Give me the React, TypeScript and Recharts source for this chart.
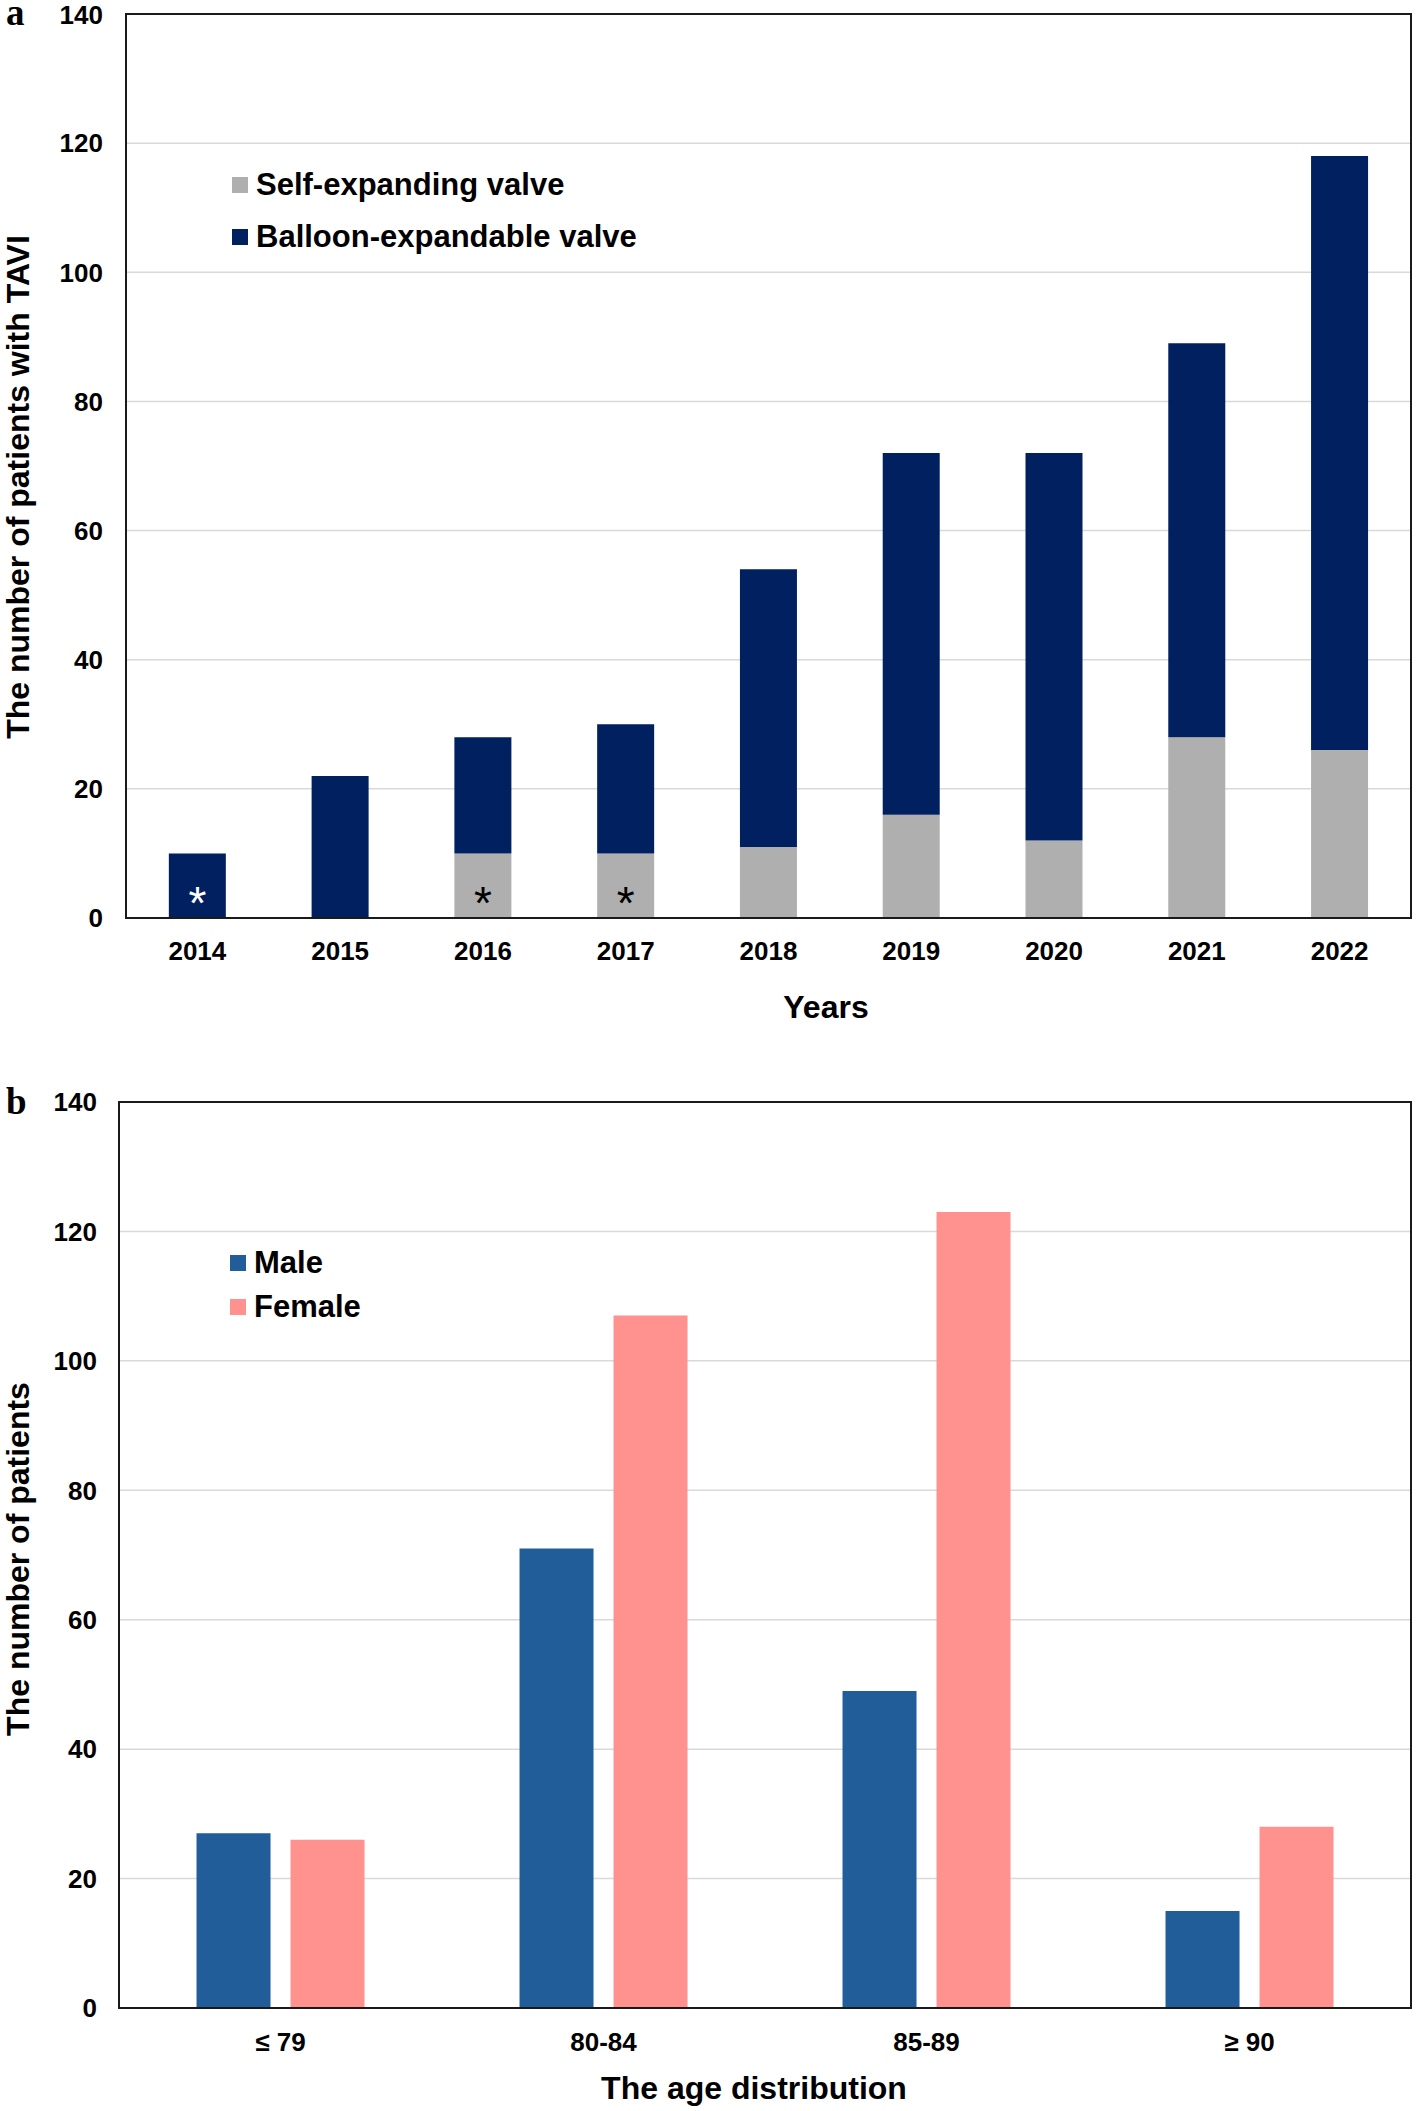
import React from "react";
import {
  BarChart,
  Bar,
  XAxis,
  YAxis,
  CartesianGrid,
  Legend,
  LabelList,
  ReferenceArea,
} from "recharts";

// panel a: TAVI valves per year
const years = ["2014", "2015", "2016", "2017", "2018", "2019", "2020", "2021", "2022"];
const selfExpanding = [0, 0, 10, 10, 11, 16, 12, 28, 26];
const balloonExpandable = [10, 22, 18, 20, 43, 56, 60, 61, 92];
const markSelf = ["", "", "*", "*", "", "", "", "", ""];
const markBalloon = ["*", "", "", "", "", "", "", "", ""];

// panel b: age distribution
const ageGroups = ["≤ 79", "80-84", "85-89", "≥ 90"];
const male = [27, 71, 49, 15];
const female = [26, 107, 123, 28];

const yTicks = [0, 20, 40, 60, 80, 100, 120, 140];

const FONT = "'Liberation Sans', Arial, Helvetica, sans-serif";
const NAVY = "#002060";
const GREY = "#AFAFAF";
const BLUE = "#215E99";
const SALMON = "#FF928E";

const valveData = years.map((y, i) => ({
  year: y,
  self: selfExpanding[i],
  balloon: balloonExpandable[i],
  markS: markSelf[i],
  markB: markBalloon[i],
}));

const ageData = ageGroups.map((g, i) => ({
  group: g,
  male: male[i],
  female: female[i],
}));

const tickStyle = { fill: "#000", fontSize: 26, fontWeight: 700, fontFamily: FONT };

const asterisk = (color: string) => (props: any) => {
  const { x, y, width, height, value } = props;
  if (!value) return null;
  return (
    <text
      x={Number(x) + Number(width) / 2}
      y={Number(y) + Number(height) + 1}
      textAnchor="middle"
      fill={color}
      fontSize={46}
      fontFamily={FONT}
    >
      {value}
    </text>
  );
};

// recharts 3 sorts legend items by name, keep the series order instead
const legendBox = (rowHeight: number, order: string[]) => (props: any) => {
  const items = [...(props.payload || [])].sort(
    (a: any, b: any) => order.indexOf(a.value) - order.indexOf(b.value)
  );
  return (
    <div style={{ fontFamily: FONT, fontWeight: 700, fontSize: 31, color: "#000" }}>
      {items.map((p: any) => (
        <div
          key={p.value}
          style={{ display: "flex", alignItems: "center", height: rowHeight, whiteSpace: "nowrap" }}
        >
          <span style={{ width: 16, height: 16, background: p.color, marginRight: 8, display: "inline-block" }} />
          {p.value}
        </div>
      ))}
    </div>
  );
};

const title = (text: string, cx: number, cy: number, rotate = false) => (
  <div
    style={{
      position: "absolute",
      left: cx,
      top: cy,
      transform: `translate(-50%, -50%)${rotate ? " rotate(-90deg)" : ""}`,
      fontFamily: FONT,
      fontWeight: 700,
      fontSize: 32,
      lineHeight: "32px",
      whiteSpace: "nowrap",
      color: "#000",
    }}
  >
    {text}
  </div>
);

const panelLetter = (ch: string, top: number) => (
  <div
    style={{
      position: "absolute",
      left: 6,
      top,
      fontFamily: "'Liberation Serif', 'Times New Roman', serif",
      fontWeight: 700,
      fontSize: 37,
      lineHeight: "25px",
    }}
  >
    {ch}
  </div>
);

export default function App() {
  return (
    <div style={{ position: "absolute", left: 0, top: 0, width: 1422, height: 2111, background: "#fff" }}>
      {/* a */}
      <div style={{ position: "absolute", left: 0, top: 0 }}>
        <BarChart
          width={1422}
          height={1060}
          data={valveData}
          margin={{ top: 14, right: 11, left: 0, bottom: 0 }}
          barCategoryGap="30%"
        >
          <CartesianGrid vertical={false} stroke="#D9D9D9" strokeWidth={1.5} />
          <XAxis
            dataKey="year"
            interval={0}
            height={142}
            tickLine={false}
            tickSize={0}
            tickMargin={24}
            axisLine={{ stroke: "#1a1a1a", strokeWidth: 2 }}
            tick={tickStyle}
          />
          <YAxis
            domain={[0, 140]}
            ticks={yTicks}
            width={126}
            tickLine={false}
            tickSize={0}
            tickMargin={23}
            axisLine={false}
            tick={tickStyle}
          />
          <Legend
            layout="vertical"
            align="center"
            verticalAlign="middle"
            wrapperStyle={{ left: 232, top: 159, width: "auto", height: "auto" }}
            content={legendBox(52, ["Self-expanding valve", "Balloon-expandable valve"])}
          />
          <Bar dataKey="self" name="Self-expanding valve" stackId="v" fill={GREY} isAnimationActive={false}>
            <LabelList dataKey="markS" content={asterisk("#000")} />
          </Bar>
          <Bar dataKey="balloon" name="Balloon-expandable valve" stackId="v" fill={NAVY} isAnimationActive={false}>
            <LabelList dataKey="markB" content={asterisk("#fff")} />
          </Bar>
          <ReferenceArea y1={0} y2={140} fill="none" stroke="#1a1a1a" strokeWidth={2} />
        </BarChart>
      </div>

      {/* b */}
      <div style={{ position: "absolute", left: 0, top: 1060 }}>
        <BarChart
          width={1422}
          height={1051}
          data={ageData}
          margin={{ top: 42, right: 11, left: 0, bottom: 0 }}
          barCategoryGap="24%"
          barGap={20}
        >
          <CartesianGrid vertical={false} stroke="#D9D9D9" strokeWidth={1.5} />
          <XAxis
            dataKey="group"
            interval={0}
            height={103}
            tickLine={false}
            tickSize={0}
            tickMargin={25}
            axisLine={{ stroke: "#1a1a1a", strokeWidth: 2 }}
            tick={tickStyle}
          />
          <YAxis
            domain={[0, 140]}
            ticks={yTicks}
            width={119}
            tickLine={false}
            tickSize={0}
            tickMargin={22}
            axisLine={false}
            tick={tickStyle}
          />
          <Legend
            layout="vertical"
            align="center"
            verticalAlign="middle"
            wrapperStyle={{ left: 230, top: 181, width: "auto", height: "auto" }}
            content={legendBox(44, ["Male", "Female"])}
          />
          <Bar dataKey="male" name="Male" fill={BLUE} isAnimationActive={false} />
          <Bar dataKey="female" name="Female" fill={SALMON} isAnimationActive={false} />
          <ReferenceArea y1={0} y2={140} fill="none" stroke="#1a1a1a" strokeWidth={2} />
        </BarChart>
      </div>

      {panelLetter("a", 0)}
      {panelLetter("b", 1089)}
      {title("The number of patients with TAVI", 18, 487, true)}
      {title("Years", 826, 1007)}
      {title("The number of patients", 18, 1559, true)}
      {title("The age distribution", 754, 2088)}
    </div>
  );
}
